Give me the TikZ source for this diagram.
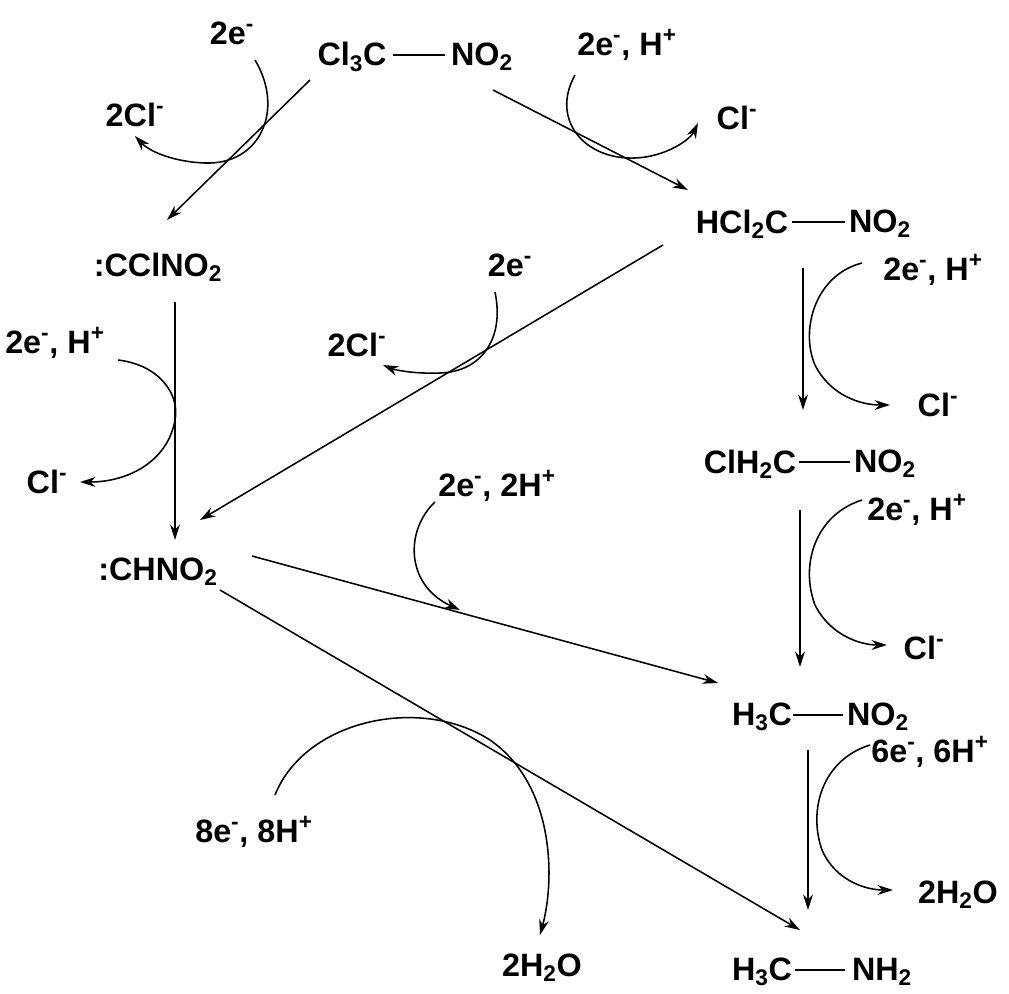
\documentclass[tikz,border=0pt]{standalone}
\usepackage{fontspec}
\setmainfont{Liberation Sans}
\usetikzlibrary{arrows.meta}
\newcommand{\sm}[1]{\textsubscript{#1}}
\newcommand{\spp}[1]{\textsuperscript{#1}}
\begin{document}
\begin{tikzpicture}[x=0.025cm,y=-0.025cm,
  lbl/.style={font=\fontsize{23}{27}\selectfont\bfseries,inner sep=0pt},
  arr/.style={line width=1.1pt,-{Stealth[length=11pt,width=7pt]}},
  bond/.style={line width=1.1pt}]
\useasboundingbox (0,0) rectangle (1009,994);
% species
\node[lbl] (a1) at (352,57) {Cl\sm{3}C};
\node[lbl] (a2) at (482,57) {NO\sm{2}};
\draw[bond] (a1.east |- 0,55) ++(6,0) -- (445,55);
\node[lbl] (b) at (158,267) {:CClNO\sm{2}};
\node[lbl] (c1) at (742,224) {HCl\sm{2}C};
\node[lbl] (c2) at (880,224) {NO\sm{2}};
\draw[bond] (792,222) -- (845,222);
\node[lbl] (d1) at (750,464) {ClH\sm{2}C};
\node[lbl] (d2) at (885,464) {NO\sm{2}};
\draw[bond] (799,462) -- (850,462);
\node[lbl] (e) at (158,572) {:CHNO\sm{2}};
\node[lbl] (f1) at (762,717) {H\sm{3}C};
\node[lbl] (f2) at (878,717) {NO\sm{2}};
\draw[bond] (793,715) -- (843,715);
\node[lbl] (g1) at (762,972) {H\sm{3}C};
\node[lbl] (g2) at (882,972) {NH\sm{2}};
\draw[bond] (795,970) -- (845,970);
% labels
\node[lbl] (l1) at (232,33) {2e\spp{-}};
\node[lbl] (l1b) at (135,115) {2Cl\spp{-}};
\node[lbl] (l2) at (627,45) {2e\spp{-}, H\spp{+}};
\node[lbl] (l2b) at (737,118) {Cl\spp{-}};
\node[lbl] (l3) at (510,265) {2e\spp{-}};
\node[lbl] (l3b) at (357,345) {2Cl\spp{-}};
\node[lbl] (l4) at (55,343) {2e\spp{-}, H\spp{+}};
\node[lbl] (l4b) at (47,482) {Cl\spp{-}};
\node[lbl] (l5) at (933,270) {2e\spp{-}, H\spp{+}};
\node[lbl] (l5b) at (938,405) {Cl\spp{-}};
\node[lbl] (l6) at (917,510) {2e\spp{-}, H\spp{+}};
\node[lbl] (l6b) at (924,648) {Cl\spp{-}};
\node[lbl] (l7) at (930,752) {6e\spp{-}, 6H\spp{+}};
\node[lbl] (l7b) at (958,895) {2H\sm{2}O};
\node[lbl] (l8) at (497,486) {2e\spp{-}, 2H\spp{+}};
\node[lbl] (l9) at (254,832) {8e\spp{-}, 8H\spp{+}};
\node[lbl] (l9b) at (542,968) {2H\sm{2}O};
% straight arrows
\draw[arr] (310,80) -- (167,220);
\draw[arr] (493,90) -- (688,190);
\draw[arr] (175,302) -- (175,540);
\draw[arr] (663,245) -- (200,520);
\draw[arr] (252,556) -- (718,683);
\draw[arr] (220,590) -- (800,930);
\draw[arr] (803,268) -- (803,410);
\draw[arr] (800,510) -- (800,667);
\draw[arr] (808,750) -- (808,910);
% curved arrows
\draw[arr] (255,60) .. controls (285,110) and (260,165) .. (205,163) .. controls (175,162) and (150,152) .. (135,136);
\draw[arr] (575,75) .. controls (550,120) and (585,160) .. (635,158) .. controls (665,157) and (690,140) .. (698,123);
\draw[arr] (495,292) .. controls (505,340) and (480,372) .. (440,373) .. controls (415,374) and (395,370) .. (383,365);
\draw[arr] (118,360) .. controls (160,365) and (180,395) .. (175,420) .. controls (168,460) and (130,482) .. (80,482);
\draw[arr] (862,263) .. controls (815,275) and (800,330) .. (815,365) .. controls (830,395) and (860,405) .. (890,405);
\draw[arr] (862,500) .. controls (815,515) and (800,565) .. (815,605) .. controls (830,635) and (860,645) .. (887,645);
\draw[arr] (870,745) .. controls (822,760) and (808,810) .. (822,850) .. controls (835,880) and (865,890) .. (893,890);
\draw[arr] (435,502) .. controls (405,530) and (405,585) .. (460,610);
\draw[arr] (275,795) .. controls (305,720) and (420,695) .. (490,740) .. controls (555,785) and (555,880) .. (540,935);
\end{tikzpicture}
\end{document}
